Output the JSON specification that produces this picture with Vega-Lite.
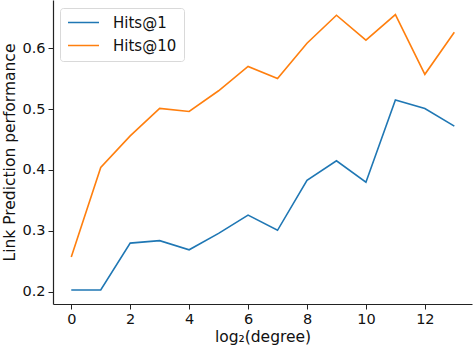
{
  "$schema": "https://vega.github.io/schema/vega-lite/v6.json",
  "autosize": "none",
  "width": 419,
  "height": 304,
  "padding": {"left": 53, "top": 0, "right": 2, "bottom": 44},
  "background": "white",
  "config": {
    "view": {"stroke": null},
    "font": "DejaVu Sans",
    "axis": {
      "domainColor": "#222",
      "tickColor": "#222",
      "labelColor": "#111",
      "titleColor": "#111",
      "labelFont": "DejaVu Sans",
      "titleFont": "DejaVu Sans",
      "labelFontSize": 14.5,
      "titleFontSize": 15.5,
      "titleFontWeight": "normal",
      "grid": false,
      "tickSize": 5,
      "domainWidth": 1.2
    }
  },
  "data": {
    "values": [
      {"x": 0, "v": 0.203, "s": "Hits@1"},
      {"x": 1, "v": 0.203, "s": "Hits@1"},
      {"x": 2, "v": 0.280, "s": "Hits@1"},
      {"x": 3, "v": 0.284, "s": "Hits@1"},
      {"x": 4, "v": 0.269, "s": "Hits@1"},
      {"x": 5, "v": 0.296, "s": "Hits@1"},
      {"x": 6, "v": 0.326, "s": "Hits@1"},
      {"x": 7, "v": 0.301, "s": "Hits@1"},
      {"x": 8, "v": 0.383, "s": "Hits@1"},
      {"x": 9, "v": 0.415, "s": "Hits@1"},
      {"x": 10, "v": 0.380, "s": "Hits@1"},
      {"x": 11, "v": 0.515, "s": "Hits@1"},
      {"x": 12, "v": 0.501, "s": "Hits@1"},
      {"x": 13, "v": 0.472, "s": "Hits@1"},
      {"x": 0, "v": 0.257, "s": "Hits@10"},
      {"x": 1, "v": 0.404, "s": "Hits@10"},
      {"x": 2, "v": 0.456, "s": "Hits@10"},
      {"x": 3, "v": 0.501, "s": "Hits@10"},
      {"x": 4, "v": 0.496, "s": "Hits@10"},
      {"x": 5, "v": 0.530, "s": "Hits@10"},
      {"x": 6, "v": 0.570, "s": "Hits@10"},
      {"x": 7, "v": 0.550, "s": "Hits@10"},
      {"x": 8, "v": 0.608, "s": "Hits@10"},
      {"x": 9, "v": 0.654, "s": "Hits@10"},
      {"x": 10, "v": 0.613, "s": "Hits@10"},
      {"x": 11, "v": 0.655, "s": "Hits@10"},
      {"x": 12, "v": 0.557, "s": "Hits@10"},
      {"x": 13, "v": 0.626, "s": "Hits@10"}
    ]
  },
  "mark": {"type": "line", "strokeWidth": 1.6, "clip": true},
  "encoding": {
    "x": {
      "field": "x", "type": "quantitative",
      "scale": {"domain": [-0.62, 13.6], "nice": false, "zero": false},
      "axis": {"values": [0, 2, 4, 6, 8, 10, 12], "title": "log₂(degree)", "titlePadding": 4, "labelPadding": 3}
    },
    "y": {
      "field": "v", "type": "quantitative",
      "scale": {"domain": [0.18, 0.679], "nice": false, "zero": false},
      "axis": {"values": [0.2, 0.3, 0.4, 0.5, 0.6], "format": ".1f", "title": "Link Prediction performance", "titlePadding": 4, "labelPadding": 3}
    },
    "color": {
      "field": "s", "type": "nominal",
      "scale": {"domain": ["Hits@1", "Hits@10"], "range": ["#1f77b4", "#ff7f0e"]},
      "legend": {
        "title": null,
        "orient": "none",
        "legendX": 7,
        "legendY": 8,
        "symbolType": "stroke",
        "symbolSize": 961,
        "clipHeight": 15,
        "symbolStrokeWidth": 1.6,
        "labelFontSize": 15,
        "labelFont": "DejaVu Sans",
        "labelColor": "#111",
        "rowPadding": 7,
        "padding": 7,
        "strokeColor": "#d9d9d9",
        "fillColor": "white",
        "cornerRadius": 3,
        "labelOffset": 13
      }
    }
  }
}
